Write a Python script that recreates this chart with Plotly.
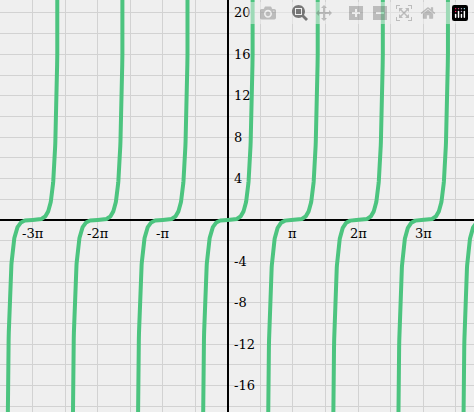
import numpy as np
import plotly.graph_objects as go

x_min, x_max = -3.5 * np.pi, 3.78 * np.pi
y_min, y_max = -18.55, 21.25

x_tick_vals = [-3 * np.pi, -2 * np.pi, -np.pi, np.pi, 2 * np.pi, 3 * np.pi]
x_tick_text = ["-3π", "-2π", "-π", "π", "2π", "3π"]
y_tick_vals = [-16, -12, -8, -4, 4, 8, 12, 16, 20]

# y = tan(x)^3, one branch per period so the asymptotes are not joined
branch_centers = list(range(-4, 5))

fig = go.Figure()
for k in branch_centers:
    t = np.linspace(k * np.pi - np.pi / 2 + 0.02, k * np.pi + np.pi / 2 - 0.02, 400)
    y = np.tan(t) ** 3
    fig.add_trace(go.Scatter(x=t, y=y, mode="lines", line=dict(color="#4cc47f", width=4),
                             hoverinfo="skip", showlegend=False))

for v, txt in zip(x_tick_vals, x_tick_text):
    fig.add_annotation(x=v, y=0, text=txt, showarrow=False, yshift=-14,
                       font=dict(family="DejaVu Serif", size=13, color="black"))
for v in y_tick_vals:
    fig.add_annotation(x=0, y=v, text=str(v), showarrow=False, xshift=4, xanchor="left",
                       font=dict(family="DejaVu Serif", size=13, color="black"))

fig.update_xaxes(range=[x_min, x_max], dtick=np.pi / 2, tick0=0, showticklabels=False,
                 gridcolor="#d2d2d2", zeroline=True, zerolinecolor="black", zerolinewidth=2)
fig.update_yaxes(range=[y_min, y_max], dtick=2, tick0=0, showticklabels=False,
                 gridcolor="#d2d2d2", zeroline=True, zerolinecolor="black", zerolinewidth=2)
fig.update_layout(width=474, height=412, margin=dict(l=0, r=0, t=0, b=0),
                  plot_bgcolor="#efefef", paper_bgcolor="#efefef")
fig.write_html("out.html")

# drop the browser's default body margin
with open("out.html", encoding="utf-8") as f:
    html = f.read()
html = html.replace("<body>", '<body style="margin:0">', 1)
with open("out.html", "w", encoding="utf-8") as f:
    f.write(html)
